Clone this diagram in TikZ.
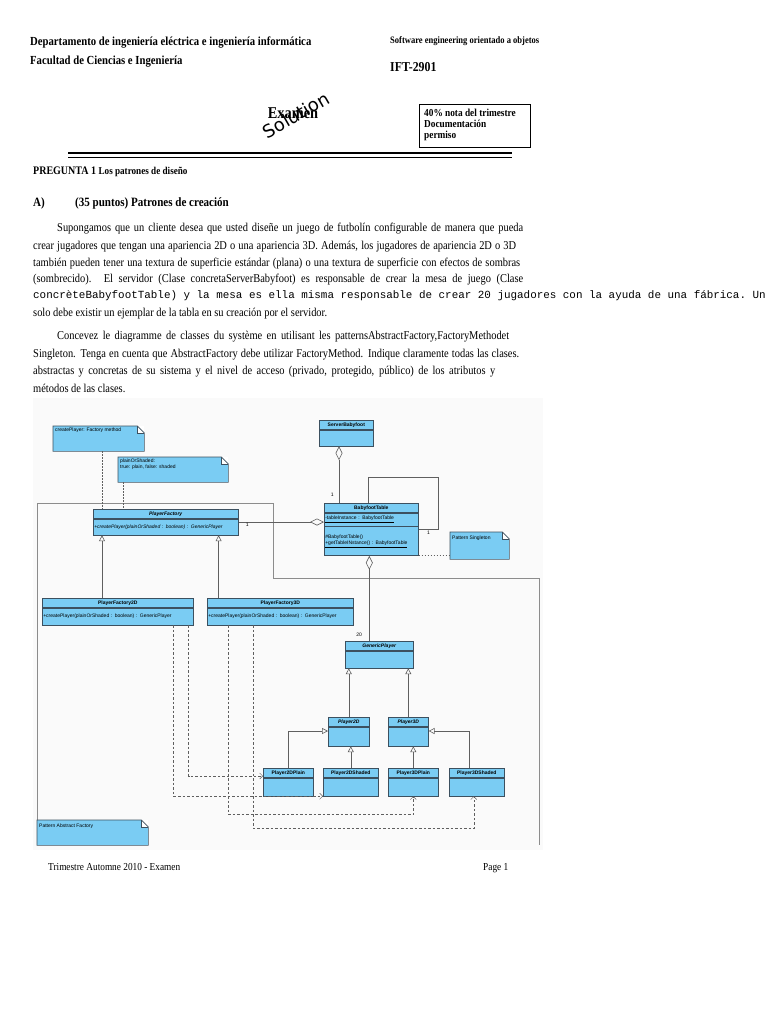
\documentclass[tikz,border=0pt]{standalone}
\usepackage{fontspec}
\setmainfont{Liberation Serif}[FakeStretch=0.87]
\setmonofont{Liberation Mono}
\newfontfamily\umlfont{Liberation Sans}
\newfontfamily\stampfont{DejaVu Sans}
\usetikzlibrary{arrows.meta}

\definecolor{umlblue}{RGB}{122,204,243}
\definecolor{umledge}{RGB}{60,80,95}
\definecolor{umlline}{RGB}{95,95,95}
\definecolor{framegray}{RGB}{140,140,140}

\tikzset{
  txt/.style={anchor=base west, inner sep=0pt},
  para/.style={txt, font=\fontsize{12}{14}\selectfont},
  clshead/.style={draw=umledge, fill=umlblue, anchor=north west, inner sep=0pt, minimum height=9pt, line width=.6pt, font=\umlfont\fontsize{5}{6}\selectfont\bfseries},
  clsbody/.style={draw=umledge, fill=umlblue, anchor=north west, inner xsep=1pt, inner ysep=0pt, align=left, line width=.6pt, font=\umlfont\fontsize{5}{6}\selectfont},
  notebox/.style={fill=umlblue, anchor=north west, inner sep=0pt},
  notetext/.style={anchor=north west, inner sep=2pt, align=left, font=\umlfont\fontsize{5}{6}\selectfont},
  gen/.style={draw=umlline, line width=.6pt, -{Triangle[open, length=6pt, width=6pt]}},
  aggr/.style={draw=umlline, line width=.6pt, {Diamond[open, length=14pt, width=7pt]}-},
  assoc/.style={draw=umlline, line width=.6pt},
  dep/.style={draw=umlline, line width=.5pt, dash pattern=on 2.5pt off 2pt, -{Straight Barb[length=3pt, width=6pt]}},
  notelink/.style={draw=umlline, line width=.5pt, dash pattern=on 1.5pt off 1.5pt},
  mult/.style={inner sep=1pt, font=\umlfont\fontsize{5}{6}\selectfont},
}

% folded corner of a note
\newcommand{\notefold}[1]{%
  \fill[white] ([xshift=-7pt]#1.north east) rectangle ([yshift=-7pt]#1.north east);
  \draw[umledge, line width=.6pt] (#1.north west) -- ([xshift=-7pt]#1.north east) -- ([yshift=-7pt]#1.north east) -- (#1.south east) -- (#1.south west) -- cycle;
  \draw[umledge, line width=.5pt] ([xshift=-7pt]#1.north east) -- ([xshift=-7pt,yshift=-7pt]#1.north east) -- ([yshift=-7pt]#1.north east);
}

\begin{document}
\begin{tikzpicture}[x=1pt,y=-1pt]
\useasboundingbox[fill=white] (0,0) rectangle (768,1024);

% page header
\node[txt, font=\bfseries\fontsize{12.3}{14}\selectfont] (dept) at (30,46) {Departamento de ingeniería eléctrica e ingeniería informática};
\node[txt, font=\bfseries\fontsize{12.3}{14}\selectfont] (fac) at (30,65) {Facultad de Ciencias e Ingeniería};
\node[txt, font=\bfseries\fontsize{9.8}{11}\selectfont] (course) at (390,44) {Software engineering orientado a objetos};
\node[txt, font=\bfseries\fontsize{13.6}{15}\selectfont] (code) at (390,72) {IFT-2901};
\node[font=\bfseries\fontsize{16.5}{18}\selectfont] (exam) at (293,113) {Examen};
\node[font=\stampfont\fontsize{18}{20}\selectfont, rotate=30] (sol) at (296,115) {Solution};
\node[draw, line width=.8pt, anchor=north west, minimum width=111pt, minimum height=43pt] (grade) at (419,104) {};
\node[anchor=north west, inner sep=0pt, align=left, font=\bfseries\fontsize{10.7}{11}\selectfont] (gradetext) at (424,109) {40\% nota del trimestre\\Documentación\\permiso};
\draw[line width=1.3pt] (68,153) -- (512,153);
\draw[line width=.8pt] (68,157) -- (512,157);

% question text
\node[txt, font=\bfseries\fontsize{11.5}{13}\selectfont] (q1) at (33,175) {PREGUNTA 1 {\fontsize{10.5}{12}\selectfont Los patrones de diseño}};
\node[txt, font=\bfseries\fontsize{12.7}{14}\selectfont] (qa) at (33,207) {A)};
\node[txt, font=\bfseries\fontsize{12.7}{14}\selectfont] (qatitle) at (75,207) {(35 puntos) Patrones de creación};

\node[para] (p1a) at (57,232) {\makebox[466pt][s]{Supongamos que un cliente desea que usted diseñe un juego de futbolín configurable de manera que pueda}};
\node[para] (p1b) at (33,249) {\makebox[483pt][s]{crear jugadores que tengan una apariencia 2D o una apariencia 3D. Además, los jugadores de apariencia 2D o 3D}};
\node[para] (p1c) at (33,266) {\makebox[487pt][s]{también pueden tener una textura de superficie estándar (plana) o una textura de superficie con efectos de sombras}};
\node[para] (p1d) at (33,282) {\makebox[490pt][s]{(sombrecido). El servidor (Clase concretaServerBabyfoot) es responsable de crear la mesa de juego (Clase}};
\node[txt, font=\ttfamily\fontsize{10.9}{13}\selectfont] (p1e) at (33,298) {concrèteBabyfootTable) y la mesa es ella misma responsable de crear 20 jugadores con la ayuda de una fábrica. Un};
\node[para] (p1f) at (33,316) {solo debe existir un ejemplar de la tabla en su creación por el servidor.};

\node[para] (p2a) at (57,339) {\makebox[452pt][s]{Concevez le diagramme de classes du système en utilisant les patternsAbstractFactory,FactoryMethodet}};
\node[para] (p2b) at (33,357) {\makebox[486pt][s]{Singleton. Tenga en cuenta que AbstractFactory debe utilizar FactoryMethod. Indique claramente todas las clases.}};
\node[para] (p2c) at (33,374) {\makebox[462pt][s]{abstractas y concretas de su sistema y el nivel de acceso (privado, protegido, público) de los atributos y}};
\node[para] (p2d) at (33,392) {métodos de las clases.};

% diagram
\fill[black!2] (33,398) rectangle (543,850);
\draw[framegray, line width=.7pt] (37,845) |- (273,503) |- (539,578) -- (539,845);

\node[notebox, minimum width=91pt, minimum height=25pt] (nfm) at (53,426) {};
\notefold{nfm}
\node[notetext] (nfmtext) at (nfm.north west) {createPlayer: Factory method};
\node[notebox, minimum width=110pt, minimum height=25pt] (npos) at (118,457) {};
\notefold{npos}
\node[notetext] (npostext) at (npos.north west) {plainOrShaded:\\true: plain, false: shaded};
\node[notebox, minimum width=59pt, minimum height=27pt] (nsing) at (450,532) {};
\notefold{nsing}
\node[notetext, inner ysep=4pt] (nsingtext) at (nsing.north west) {Pattern Singleton};
\node[notebox, minimum width=111pt, minimum height=25pt] (naf) at (37,820) {};
\notefold{naf}
\node[notetext, inner ysep=4pt] (naftext) at (naf.north west) {Pattern Abstract Factory};

\node[clshead, minimum width=54pt] (sbhead) at (319,420) {ServerBabyfoot};
\node[clsbody, text width=52pt, minimum height=16pt] (sbbody) at (sbhead.south west) {};

\node[clshead, minimum width=145pt] (pfhead) at (93,509) {\textit{PlayerFactory}};
\node[clsbody, text width=143pt, minimum height=16pt] (pfops) at (pfhead.south west) {\textit{+createPlayer(plainOrShaded : boolean) : GenericPlayer}};

\node[clshead, minimum width=94pt] (bthead) at (324,503) {BabyfootTable};
\node[clsbody, text width=92pt, minimum height=13pt] (btattr) at (bthead.south west) {\underline{-tableInstance : BabyfootTable}};
\node[clsbody, text width=92pt, minimum height=29pt] (btops) at (btattr.south west) {\#BabyfootTable()\\\underline{+getTableINstance() : BabyfootTable}\\[7pt]};

\node[clshead, minimum width=151pt] (f2dhead) at (42,598) {PlayerFactory2D};
\node[clsbody, text width=149pt, minimum height=17pt] (f2dops) at (f2dhead.south west) {+createPlayer(plainOrShaded : boolean) : GenericPlayer};
\node[clshead, minimum width=146pt] (f3dhead) at (207,598) {PlayerFactory3D};
\node[clsbody, text width=144pt, minimum height=17pt] (f3dops) at (f3dhead.south west) {+createPlayer(plainOrShaded : boolean) : GenericPlayer};

\node[clshead, minimum width=68pt] (gphead) at (345,641) {\textit{GenericPlayer}};
\node[clsbody, text width=66pt, minimum height=17pt] (gpbody) at (gphead.south west) {};
\node[clshead, minimum width=41pt] (p2dhead) at (328,717) {\textit{Player2D}};
\node[clsbody, text width=39pt, minimum height=19pt] (p2dbody) at (p2dhead.south west) {};
\node[clshead, minimum width=40pt] (p3dhead) at (388,717) {\textit{Player3D}};
\node[clsbody, text width=38pt, minimum height=19pt] (p3dbody) at (p3dhead.south west) {};

\node[clshead, minimum width=50pt] (p2dphead) at (263,768) {Player2DPlain};
\node[clsbody, text width=48pt, minimum height=18pt] (p2dpbody) at (p2dphead.south west) {};
\node[clshead, minimum width=55pt] (p2dshead) at (323,768) {Player2DShaded};
\node[clsbody, text width=53pt, minimum height=18pt] (p2dsbody) at (p2dshead.south west) {};
\node[clshead, minimum width=50pt] (p3dphead) at (388,768) {Player3DPlain};
\node[clsbody, text width=48pt, minimum height=18pt] (p3dpbody) at (p3dphead.south west) {};
\node[clshead, minimum width=55pt] (p3dshead) at (449,768) {Player3DShaded};
\node[clsbody, text width=53pt, minimum height=18pt] (p3dsbody) at (p3dshead.south west) {};

% connectors
\coordinate (pfl) at ([xshift=9pt]pfops.south west);
\coordinate (pfr) at ([xshift=-20pt]pfops.south east);
\coordinate (pfn) at ([xshift=30pt]pfhead.north west);
\draw[notelink] (nfm.south -| pfl) -- (pfhead.north -| pfl);
\draw[notelink] (npos.south -| pfn) -- (pfn);
\draw[gen] (f2dhead.north -| pfl) -- (pfl);
\draw[gen] (f3dhead.north -| pfr) -- (pfr);

\coordinate (btl) at ([yshift=-19pt]bthead.north west);
\draw[aggr] (btl) -- (btl -| pfops.east) node[mult, pos=.9, below] {1};
\coordinate (sbb) at ([xshift=20pt]sbbody.south west);
\draw[aggr] (sbb) -- (sbb |- bthead.north) node[mult, pos=.85, left=4pt] {1};
\draw[assoc] ([xshift=-3pt]bthead.north) -- ++(0,-26) -| ([xshift=20pt,yshift=-3pt]btops.north east) -- ([yshift=-3pt]btops.north east) node[mult, pos=.5, below=1pt] {1};
\coordinate (bts) at ([yshift=1pt]btops.south east);
\draw[notelink] (bts) -- (bts -| nsing.west);
\coordinate (btb) at ([xshift=-2pt]btops.south);
\draw[aggr] (btb) -- (btb |- gphead.north) node[mult, pos=.93, left=6pt] {20};

\draw[gen] (p2dhead.north) -- (p2dhead.north |- gpbody.south);
\draw[gen] (p3dhead.north) -- (p3dhead.north |- gpbody.south);
\coordinate (p2dside) at ([yshift=-14pt]p2dhead.north west);
\coordinate (p3dside) at ([yshift=-14pt]p3dhead.north east);
\draw[gen] (p2dphead.north) |- (p2dside);
\draw[gen] (p2dshead.north) -- (p2dshead.north |- p2dbody.south);
\draw[gen] (p3dphead.north) -- (p3dphead.north |- p3dbody.south);
\draw[gen] ([xshift=-8pt]p3dshead.north) |- (p3dside);

\draw[dep] ([xshift=-5pt]f2dops.south east) |- ([yshift=-8pt]p2dphead.north west);
\draw[dep] ([xshift=-20pt]f2dops.south east) |- (p2dsbody.south west);
\draw[dep] ([xshift=21pt]f3dops.south west) |- ([yshift=-18pt]p3dpbody.south) -- (p3dpbody.south);
\draw[dep] ([xshift=46pt]f3dops.south west) |- ([xshift=-3pt,yshift=-32pt]p3dsbody.south) -- ([xshift=-3pt]p3dsbody.south);

% page footer
\node[txt, font=\fontsize{10.7}{13}\selectfont] (foot) at (48,870) {Trimestre Automne 2010 - Examen};
\node[txt, font=\fontsize{10.7}{13}\selectfont] (page) at (483,870) {Page 1};
\end{tikzpicture}
\end{document}
